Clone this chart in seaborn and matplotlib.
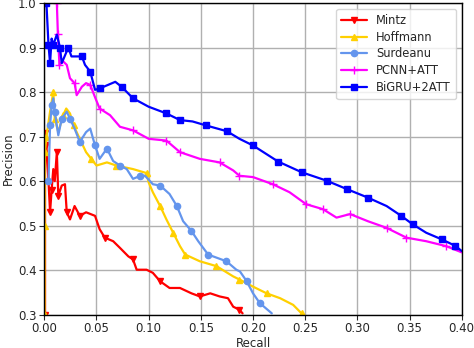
import matplotlib
matplotlib.use("Agg")
import matplotlib.pyplot as plt
import seaborn as sns
import pandas as pd

# ---- data ----
mintz_r = [0.0007, 0.0007, 0.002, 0.004, 0.0055, 0.007, 0.0086, 0.010, 0.012, 0.0134, 0.0167, 0.0198, 0.0215,
           0.0246, 0.029, 0.034, 0.040, 0.0486, 0.053, 0.058, 0.066, 0.0725, 0.0805, 0.085, 0.0885,
           0.098, 0.104, 0.111, 0.120, 0.130, 0.141, 0.149, 0.159, 0.168, 0.176, 0.181, 0.187, 0.190]
mintz_p = [0.30, 0.707, 0.68, 0.60, 0.53, 0.58, 0.627, 0.60, 0.665, 0.567, 0.59, 0.593, 0.53,
           0.514, 0.544, 0.522, 0.53, 0.522, 0.492, 0.473, 0.465, 0.45, 0.431, 0.424, 0.401,
           0.401, 0.394, 0.375, 0.36, 0.36, 0.348, 0.341, 0.348, 0.341, 0.337, 0.318, 0.311, 0.303]

hoff_r = [0.0003, 0.0003, 0.0005, 0.002, 0.0055, 0.0086, 0.010, 0.0134, 0.018, 0.021, 0.0246, 0.028, 0.034,
          0.040, 0.045, 0.050, 0.060, 0.069, 0.085, 0.098, 0.100, 0.104, 0.111, 0.117, 0.1235,
          0.130, 0.135, 0.149, 0.165, 0.181, 0.187, 0.200, 0.213, 0.226, 0.2385, 0.2465]
hoff_p = [0.30, 0.50, 0.666, 0.70, 0.756, 0.80, 0.74, 0.71, 0.748, 0.763, 0.752, 0.725, 0.695,
          0.665, 0.65, 0.635, 0.642, 0.635, 0.627, 0.618, 0.597, 0.575, 0.544, 0.514, 0.484,
          0.454, 0.435, 0.42, 0.409, 0.386, 0.379, 0.363, 0.348, 0.337, 0.322, 0.303]

surd_r = [0.004, 0.0055, 0.007, 0.0086, 0.010, 0.0134, 0.0167, 0.0215, 0.0246, 0.029, 0.034, 0.040, 0.044,
          0.0486, 0.053, 0.060, 0.066, 0.0725, 0.079, 0.085, 0.092, 0.0965, 0.104, 0.111, 0.120,
          0.127, 0.133, 0.141, 0.1475, 0.157, 0.1745, 0.184, 0.1875, 0.194, 0.200, 0.2065, 0.218]
surd_p = [0.60, 0.725, 0.77, 0.786, 0.756, 0.703, 0.74, 0.756, 0.74, 0.718, 0.688, 0.71, 0.718,
          0.68, 0.65, 0.673, 0.645, 0.635, 0.627, 0.605, 0.612, 0.612, 0.593, 0.59, 0.571,
          0.544, 0.51, 0.488, 0.465, 0.435, 0.42, 0.401, 0.397, 0.375, 0.348, 0.326, 0.303]

pcnn_r = [0.012, 0.013, 0.0145, 0.018, 0.0215, 0.0246, 0.029, 0.031, 0.036, 0.040, 0.044, 0.049, 0.053,
          0.063, 0.0725, 0.085, 0.100, 0.117, 0.130, 0.149, 0.168, 0.181, 0.187, 0.200, 0.219,
          0.235, 0.251, 0.267, 0.280, 0.293, 0.310, 0.328, 0.347, 0.366, 0.385, 0.400]
pcnn_p = [1.00, 0.93, 0.861, 0.869, 0.861, 0.831, 0.82, 0.793, 0.812, 0.82, 0.816, 0.786, 0.763,
          0.748, 0.722, 0.714, 0.695, 0.691, 0.665, 0.65, 0.642, 0.624, 0.612, 0.609, 0.593,
          0.575, 0.548, 0.537, 0.518, 0.526, 0.51, 0.495, 0.473, 0.465, 0.454, 0.44]

bigru_r = [0.002, 0.004, 0.0055, 0.007, 0.0086, 0.012, 0.015, 0.0167, 0.023, 0.026, 0.036, 0.039, 0.044,
           0.0486, 0.053, 0.068, 0.074, 0.085, 0.100, 0.117, 0.130, 0.142, 0.155, 0.175, 0.187,
           0.200, 0.224, 0.2465, 0.2705, 0.290, 0.310, 0.328, 0.342, 0.353, 0.366, 0.381, 0.3935, 0.400]
bigru_p = [1.00, 0.906, 0.865, 0.92, 0.906, 0.929, 0.90, 0.865, 0.90, 0.88, 0.88, 0.861, 0.846,
           0.805, 0.808, 0.823, 0.812, 0.786, 0.767, 0.752, 0.737, 0.734, 0.725, 0.712, 0.695,
           0.68, 0.644, 0.62, 0.601, 0.582, 0.563, 0.544, 0.522, 0.503, 0.484, 0.469, 0.455, 0.443]

x_ticks = [0.00, 0.05, 0.10, 0.15, 0.20, 0.25, 0.30, 0.35, 0.40]
y_ticks = [0.3, 0.4, 0.5, 0.6, 0.7, 0.8, 0.9, 1.0]

series = [
    ("Mintz", mintz_r, mintz_p, "#ff0000", "v", 0.08),
    ("Hoffmann", hoff_r, hoff_p, "#ffd000", "^", 0.06),
    ("Surdeanu", surd_r, surd_p, "#6495ed", "o", 0.05),
    ("PCNN+ATT", pcnn_r, pcnn_p, "#ff00ff", "+", 0.06),
    ("BiGRU+2ATT", bigru_r, bigru_p, "#0000ff", "s", 0.045),
]

sns.set_style("ticks", {"axes.grid": True, "grid.color": "#b0b0b0",
                        "axes.edgecolor": "black"})
plt.rcParams["font.family"] = ["DejaVu Sans"]

fig = plt.figure(figsize=(4.74, 3.48), dpi=100)
ax = fig.add_axes([0.0935, 0.0957, 0.8806, 0.8957])

for name, r, p, c, m, me in series:
    df = pd.DataFrame({"Recall": r, "Precision": p})
    sns.lineplot(data=df, x="Recall", y="Precision", ax=ax, color=c, marker=m,
                 markersize=4.5 if m != "+" else 5.5, markevery=me, linewidth=1.6,
                 estimator=None, sort=False, label=name, markeredgecolor=c,
                 markeredgewidth=1.0)

ax.set_xlim(0, 0.40)
ax.set_ylim(0.3, 1.0)
ax.set_xticks(x_ticks)
ax.set_xticklabels([f"{v:.2f}" for v in x_ticks], fontsize=8.5)
ax.set_yticks(y_ticks)
ax.set_yticklabels([f"{v:.1f}" for v in y_ticks], fontsize=8.5)
ax.set_xlabel("Recall", fontsize=8.5, labelpad=1)
ax.set_ylabel("Precision", fontsize=8.5, labelpad=2)
ax.tick_params(length=3.5, width=0.8, pad=2)
for s in ax.spines.values():
    s.set_linewidth(1.0)
    s.set_color("black")
ax.grid(True, color="#b0b0b0", linewidth=1.0)

leg = ax.legend(loc="upper right", fontsize=8.3, frameon=True, handlelength=2.2,
                borderpad=0.45, labelspacing=0.32, fancybox=True)
leg.get_frame().set_edgecolor("#cccccc")

fig.savefig("out.png", dpi=100)
